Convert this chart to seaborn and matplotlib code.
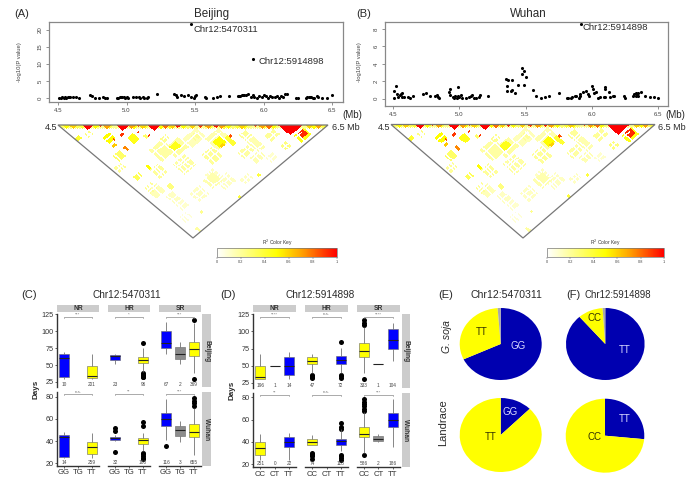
import numpy as np
import pandas as pd
import matplotlib
matplotlib.use("Agg")
import matplotlib.pyplot as plt
from matplotlib.colors import LinearSegmentedColormap, Normalize
from matplotlib.cm import ScalarMappable
from matplotlib.patches import Polygon
import seaborn as sns

# ---------- association scatter data ----------
a_pos = [4.51,4.52,4.53,4.54,4.55,4.56,4.57,4.58,4.59,4.61,4.63,4.65,4.73,4.75,4.77,4.80,4.83,4.84,4.86,
         4.93,4.94,4.95,4.96,4.97,4.98,4.99,5.0,5.01,5.05,5.07,5.09,5.1,5.12,5.13,5.15,5.16,5.22,
         5.35,5.36,5.37,5.40,5.42,5.45,5.47,5.49,5.50,5.51,5.57,5.58,5.63,5.66,5.68,5.75,
         5.81,5.82,5.83,5.84,5.85,5.86,5.87,5.89,5.91,5.92,5.93,5.95,5.97,5.99,6.0,6.02,6.03,6.05,6.06,6.08,6.1,6.11,
         6.13,6.14,6.16,6.17,6.24,6.25,6.31,6.32,6.33,6.34,6.35,6.36,6.37,6.39,6.40,6.43,6.46,6.5,5.468,5.92]
a_logp = [.1,.2,.25,.15,.3,.2,.35,.25,.3,.4,.3,.15,1.0,.6,.1,.2,.3,.1,.15,
          .1,.2,.3,.25,.4,.3,.2,.35,.2,.3,.4,.3,.15,.3,.1,.2,.3,1.2,
          1.4,.9,.5,1.0,.6,.9,.4,.2,.8,1.1,.5,.1,.2,.3,.8,.6,
          .6,.8,.7,.9,1.0,.9,1.1,1.2,.5,.9,.3,.2,.7,.4,.9,.6,.2,.8,.5,.3,.7,.2,
          .8,.3,1.2,1.4,.2,.1,.2,.3,.35,.25,.3,.1,.2,.8,.3,.2,.15,.9,21.8,11.4]
b_pos = [4.51,4.51,4.52,4.53,4.54,4.55,4.56,4.57,4.57,4.58,4.61,4.63,4.65,4.73,4.75,4.78,4.82,4.83,4.84,4.85,
         4.92,4.93,4.93,4.95,4.96,4.97,4.98,4.99,4.99,5.0,5.01,5.02,5.05,5.07,5.09,5.1,5.11,5.13,5.15,5.16,5.22,
         5.35,5.37,5.36,5.36,5.39,5.40,5.40,5.42,5.44,5.47,5.47,5.49,5.49,5.50,5.56,5.58,5.62,5.65,5.68,5.75,
         5.81,5.82,5.84,5.85,5.87,5.88,5.9,5.91,5.91,5.93,5.96,5.97,5.98,6.0,6.01,6.02,6.03,6.05,6.06,6.09,6.1,6.1,6.1,
         6.13,6.14,6.16,6.17,6.24,6.25,6.31,6.32,6.33,6.33,6.34,6.35,6.35,6.37,6.4,6.44,6.47,6.5,5.916]
b_logp = [.9,.05,1.4,.5,.2,.4,.5,.2,.7,.2,.15,.1,.3,.55,.7,.3,.3,.4,.15,.05,
          .8,1.1,.4,.2,.1,.3,.1,1.3,.3,.2,.4,.1,.05,.2,.3,.4,.1,.05,.2,.4,.35,
          2.2,2.1,1.4,.9,.9,1.0,2.1,.7,1.6,2.8,3.5,1.6,3.2,2.5,1.0,.3,.1,.15,.25,.7,
          .1,.05,.1,.2,.25,.3,.1,.5,.3,.8,.9,.5,.35,1.5,1.1,.6,.8,.1,.2,.2,1.3,1.1,.2,
          .8,.2,.3,.3,.3,.1,.3,.5,.3,.6,.4,.3,.7,.8,.25,.15,.2,.05,8.6]

# ---------- LD blocks read from the triangles (Mb ranges and r2) ----------
ld_a0 = [4.69,4.93,5.17,5.37,5.53,5.645,5.95,4.805,5.08,6.14,4.71,4.78,4.72,4.63,5.14,5.50,4.78,4.60,6.20,4.87,5.53,5.20,4.79,4.60,5.08,4.95,5.47,5.08,4.57,4.76,5.75,5.30,4.50,4.90,5.60,6.15,5.068,5.025,4.778,5.668,5.52]
ld_a1 = [4.77,5.03,5.26,5.425,5.59,5.695,5.99,4.835,5.12,6.32,4.81,4.84,4.76,4.73,5.24,5.60,4.84,4.68,6.28,4.91,5.57,5.24,4.83,4.64,5.28,5.15,5.67,5.24,4.71,4.84,5.85,5.50,4.56,5.0,5.66,6.30,5.092,5.055,4.802,5.692,5.56]
ld_b0 = [4.69,4.93,5.17,5.37,5.53,5.645,5.95,4.805,5.08,6.14,4.95,5.19,5.08,5.19,5.52,5.80,5.52,5.51,6.35,5.05,6.41,6.46,6.31,6.44,5.50,5.40,5.72,6.06,5.75,5.85,6.05,5.55,4.75,5.14,5.85,6.35,5.268,5.145,5.038,5.868,5.88]
ld_b1 = [4.77,5.03,5.26,5.425,5.59,5.695,5.99,4.835,5.12,6.32,5.05,5.25,5.12,5.29,5.62,5.90,5.58,5.59,6.43,5.09,6.45,6.50,6.35,6.50,5.66,5.60,5.92,6.22,5.89,5.91,6.23,5.70,4.80,5.24,5.98,6.46,5.292,5.175,5.062,5.892,5.92]
ld_r2 = [1.0,1.0,1.0,.95,.9,.95,.9,.9,.85,1.0,.5,.75,.62,.3,.45,.5,.5,.33,.92,.9,.38,.38,.22,.18,.18,.18,.16,.16,.14,.25,.16,.14,.4,.45,.4,.45,.9,.9,.85,.85,.6]
# pale regions: centre of each rotated block (a, b), half width, r2
ld_pale_a = [4.65,5.04,5.18,5.42,5.81,6.0,6.01,5.66,5.385,5.08,4.84,4.58,4.62,4.7,4.93,5.25,5.21,5.7,5.8,5.42,4.63,4.72]
ld_pale_b = [4.82,5.27,5.42,5.63,5.98,6.18,6.37,6.13,5.915,5.78,5.66,5.34,5.74,6.0,6.17,6.25,6.09,6.28,6.38,6.37,6.27,6.13]
ld_pale_h = [.05,.03,.04,.04,.06,.06,.04,.07,.08,.1,.07,.05,.06,.06,.08,.08,.06,.06,.06,.06,.05,.05]
ld_pale_r2 = [.25,.3,.22,.2,.2,.2,.25,.18,.2,.18,.2,.2,.2,.12,.12,.12,.12,.15,.1,.12,.08,.1]
# chips just under the top edge
ld_near_pos = [4.53,4.56,4.59,4.62,4.65,4.68,4.79,4.86,4.89,5.05,5.07,5.13,5.15,5.27,5.3,5.33,5.35,5.44,5.47,5.5,5.61,5.63,5.71,5.74,5.77,5.8,5.83,5.86,5.89,5.92,6.01,6.04,6.07,6.1,6.12,6.36,6.4,6.43,6.46,6.49]
ld_near_r2 = [.3,.5,.25,.6,.35,.4,.5,.7,.4,.7,.5,.6,.4,.5,.8,.4,.6,.5,.3,.6,.7,.4,.7,.4,.5,.3,.4,.6,.5,.3,.7,.4,.8,.5,.3,.6,.5,.7,.3,.4]
ld_band_r2 = .22
ld_gap_pos = [4.58,4.61,4.64,4.66,4.70,4.78,4.83,4.86,4.91,4.99,5.02,5.07,5.13,5.19,5.23,5.29,5.34,5.41,5.46,5.52,5.57,5.61,5.69,5.74,5.78,5.86,5.93,6.01,6.07,6.12,6.2,6.25,6.33,6.38,6.42,6.47]

# ---------- boxes: [low whisker, Q1, median, Q3, high whisker] ----------
c_bj_nr = {'GG': [30,33,61,66.4,69], 'TT': [30,30.4,33.4,48.6,66]}
c_bj_hr = {'GG': [51,57.5,64,65,66], 'TT': [40,52.6,57,62.4,75]}
c_bj_sr = {'GG': [67,75,83,101,113], 'TG': [52,59.5,67,76,84], 'TT': [39,64,73,84.6,112]}
c_wh_nr = {'GG': [25,25.6,43.4,45.5,48.5], 'TT': [24.5,28.7,35,39.5,47]}
c_wh_hr = {'GG': [40,41,42.5,44,45.5], 'TT': [31.5,37,40.7,42.5,47.5]}
c_wh_sr = {'GG': [41,54,60,65,78], 'TG': [39.5,44.5,50,54,58], 'TT': [27.5,43.7,48.5,55,70]}
d_bj_nr = {'CC': [30,30.4,33,49.4,67], 'CT': [49.4], 'TT': [30,37,50,63,69.4]}
d_bj_hr = {'CC': [40,52,57,63,66.5], 'TT': [40,53,58,64.5,76]}
d_bj_sr = {'CC': [40,63,71,82.5,107], 'CT': [52], 'TT': [57,74,88,103,113]}
d_wh_nr = {'CC': [24,28.4,34.3,39.7,47], 'TT': [24,35,40,44,48]}
d_wh_hr = {'CC': [37,37.6,40,42.4,46], 'TT': [31.4,37.3,41,43,52]}
d_wh_sr = {'CC': [30,44,47,53.4,67], 'CT': [39.7,41.2,43,45.4,47], 'TT': [35,53,60,65.7,78.5]}

c_bj_out = {'HR': [83,38,36,35,33,32], 'SR': [116.6,30]}
c_bj_out_geno = {'HR': ['TT']*6, 'SR': ['TT','TT']}
c_wh_out = {'HR': [52,49.5,30.5,57.5,53.5,29.5,28,26.5,25,24], 'SR': [35.5,78.5,76,74,72]}
c_wh_out_geno = {'HR': ['GG','GG','GG']+['TT']*7, 'SR': ['GG','TT','TT','TT','TT']}
d_bj_out = {'HR': [36,35,34,33,32,84,37,35,32.5], 'SR': [117,113,110,30]}
d_bj_out_geno = {'HR': ['CC']*5+['TT']*4, 'SR': ['CC']*4}
d_wh_out = {'HR': [30,29,28,27,25,57.3,53,51.5,28.5,27,26,24], 'SR': [78.5,76,74,72,70,68,28]}
d_wh_out_geno = {'HR': ['CC']*5+['TT']*7, 'SR': ['CC']*7}

c_bj_n = [['10','','201'],['23','','96'],['67','2','369']]
c_wh_n = [['14','','259'],['32','','180'],['116','3','655']]
d_bj_n = [['196','1','14'],['47','','72'],['333','1','104']]
d_wh_n = [['251','0','22'],['74','','118'],['586','2','186']]
c_bj_sig = ['***','*','***']
c_wh_sig = ['n.s.','**','***']
d_bj_sig = ['****','n.s.','****']
d_wh_sig = ['**','n.s.','***']
treatments = ['NR','HR','SR']
c_order = ['GG','TG','TT']
d_order = ['CC','CT','TT']

# ---------- pies ----------
e_soja = [68, 30.8, 1.2]
f_soja = [88.6, 10.3, 1.1]
e_land = [12.5, 87.5]
f_land = [26.5, 73.5]

sns.set_theme(style='white')
plt.rcParams['font.family'] = ['Liberation Sans', 'DejaVu Sans']
W, H = 692, 484
fig = plt.figure(figsize=(W/100, H/100), dpi=100)
ink = '#2a2a2a'

def ax_px(l, t, r, b, **kw):
    return fig.add_axes([l/W, 1-b/H, (r-l)/W, (b-t)/H], **kw)

def txt(x, y, s, size=7, ha='center', va='center', color=ink, **kw):
    fig.text(x/W, 1-y/H, s, fontsize=size, ha=ha, va=va, color=color, **kw)

# ---------- scatter panels ----------
def assoc(rect, pos, logp, xlim, ylim, yticks, notes):
    ax = ax_px(*rect)
    sns.scatterplot(x=pos, y=logp, ax=ax, s=5, color='black', linewidth=0)
    ax.set(xlim=xlim, ylim=ylim, xlabel='', ylabel='')
    ax.set_xticks([4.5, 5.0, 5.5, 6.0, 6.5])
    ax.set_yticks(yticks)
    ax.tick_params(axis='both', length=2.5, width=.5, color='#666', labelsize=4.4,
                   labelcolor='#444', pad=2, bottom=True, left=True)
    ax.tick_params(axis='y', labelrotation=90)
    for lab in ax.get_yticklabels():
        lab.set_va('center')
    for s in ax.spines.values():
        s.set_color('#888')
        s.set_linewidth(.9)
    for (x, y, s) in notes:
        ax.text(x, y, s, fontsize=6.8, color=ink, ha='left', va='center')
    return ax

assoc((49, 21.7, 343, 102), a_pos, a_logp, (4.434, 6.58), (-1.08, 22.4), [0, 5, 10, 15, 20],
      [(5.49, 20, 'Chr12:5470311'), (5.96, 10.9, 'Chr12:5914898')])
assoc((385, 21.7, 668, 106), b_pos, b_logp, (4.44, 6.575), (-0.85, 8.85), [0, 2, 4, 6, 8],
      [(5.933, 8.2, 'Chr12:5914898')])
txt(20, 62, '-log10(P value)', size=4.2, rotation=90, color='#444')
txt(359, 62, '-log10(P value)', size=4.2, rotation=90, color='#444')
txt(22, 14, '(A)', size=8)
txt(364, 14, '(B)', size=8)
txt(212, 14, 'Beijing', size=8.4)
txt(528, 14, 'Wuhan', size=8.4)
txt(342, 115, '(Mb)', size=7, ha='left')
txt(665, 115, '(Mb)', size=7, ha='left')

# ---------- LD triangles ----------
ld_cmap = LinearSegmentedColormap.from_list('ld', [(0, '#ffffff'), (.5, '#ffff00'), (.7, '#ffa500'), (1, '#ff0000')], N=256)
ld_norm = Normalize(0, 1)
edges = np.linspace(4.5, 6.5, 121)
mid = (edges[:-1] + edges[1:]) / 2
m = np.zeros((mid.size, mid.size))
def paint(a0, a1, b0, b1, r):
    sel = np.outer((mid >= a0) & (mid < a1), (mid >= b0) & (mid < b1))
    m[sel] = np.maximum(m[sel], r)
for a, b, h, r in zip(ld_pale_a, ld_pale_b, ld_pale_h, ld_pale_r2):
    paint(a - h, a + h, b - h, b + h, r)
aa, bb = np.meshgrid(mid, mid, indexing='ij')
for g in ld_gap_pos:
    k = np.argmin(np.abs(mid - g))
    far = bb - aa > .08
    m[k, :][far[k, :]] = 0
    m[:, k][far[:, k]] = 0
m[(bb >= aa) & (bb - aa < .06)] = np.maximum(m[(bb >= aa) & (bb - aa < .06)], ld_band_r2)
for a0, a1, b0, b1, r in zip(ld_a0, ld_a1, ld_b0, ld_b1, ld_r2):
    paint(a0, a1, b0, b1, r)
for p, r in zip(ld_near_pos, ld_near_r2):
    paint(p - .032, p + .032, p - .032, p + .032, r)
for g in ld_gap_pos[::3]:
    k = np.argmin(np.abs(mid - g))
    far = bb - aa > .12
    m[k, :][far[k, :]] = 0
    m[:, k][far[:, k]] = 0

def triangle(rect, key):
    ax = ax_px(*rect)
    A, B = np.meshgrid(edges, edges, indexing='ij')
    mesh = ax.pcolormesh((A + B) / 2, B - A, np.ma.masked_where(bb < aa, m),
                         cmap=ld_cmap, norm=ld_norm, shading='flat', linewidth=0, rasterized=True)
    ax.set(xlim=(4.5, 6.5), ylim=(2, 0))
    ax.axis('off')
    corners = [(4.5, 0), (6.5, 0), (5.5, 2)]
    mesh.set_clip_path(Polygon(corners, transform=ax.transData))
    ax.add_patch(Polygon(corners, closed=True, fill=False, edgecolor='#777', linewidth=.9, clip_on=False))
    cax = ax_px(*key)
    cb = fig.colorbar(ScalarMappable(norm=ld_norm, cmap=ld_cmap), cax=cax, orientation='horizontal',
                      ticks=[0, .2, .4, .6, .8, 1])
    cb.ax.set_xticklabels(['0', '0.2', '0.4', '0.6', '0.8', '1'])
    cb.ax.tick_params(labelsize=2.8, length=1.5, width=.3, pad=1, color='#555', labelcolor='#444', bottom=True)
    cb.outline.set_edgecolor('#777')
    cb.outline.set_linewidth(.5)
    fig.text((key[0] + key[2]) / 2 / W, 1 - 243 / H, 'R$^2$ Color Key', fontsize=3.5, color='#333',
             ha='center', va='center')

triangle((58, 125, 328, 238), (217, 248, 337, 257))
triangle((391, 124.5, 655, 238), (547, 248, 664, 257))
txt(57, 127, '4.5', size=6.5, ha='right')
txt(332, 127, '6.5 Mb', size=6.5, ha='left')
txt(390, 127, '4.5', size=6.5, ha='right')
txt(658, 127, '6.5 Mb', size=6.5, ha='left')

# ---------- boxplot facets ----------
palettes = {'GG': '#0000ff', 'TG': '#8c8c8c', 'TT': '#ffff00', 'CC': '#ffff00', 'CT': '#8c8c8c'}
d_palette = dict(palettes, TT='#0000ff')

def facet(rect, stats, outliers, outgeno, order, pal, ylim, yticks, n_labels, sig, brack, ny, first, bottom):
    ax = ax_px(*rect)
    rows = [(g, v) for g, vals in stats.items() for v in vals]
    df = pd.DataFrame(rows, columns=['geno', 'days'])
    sns.boxplot(data=df, x='geno', y='days', hue='geno', order=order, hue_order=order, palette=pal,
                saturation=1, dodge=False, legend=False, whis=(0, 100), width=.7, linewidth=.55, linecolor='#666',
                showcaps=False, showfliers=False, ax=ax,
                medianprops={'color': '#222', 'linewidth': .8},
                boxprops={'linewidth': .4})
    if outliers:
        sns.scatterplot(x=outgeno, y=outliers, ax=ax, s=13, color='black', linewidth=0)
    ax.set(xlim=(-.5, 2.5), ylim=ylim, xlabel='', ylabel='')
    ax.patch.set_visible(False)
    ax.set_yticks(yticks if first else [])
    ax.set_xticks(range(3))
    ax.set_xticklabels(order if bottom else [''] * 3)
    ax.tick_params(axis='x', length=0 if not bottom else 1.5, width=.5, labelsize=5.6, labelcolor='#333', pad=1, bottom=bottom)
    ax.tick_params(axis='y', length=1.5, width=.5, labelsize=5.2, labelcolor='#333', pad=1, left=first)
    for s in ['top', 'right']:
        ax.spines[s].set_visible(False)
    ax.spines['left'].set_visible(first)
    ax.spines['bottom'].set_visible(bottom)
    for s in ['left', 'bottom']:
        ax.spines[s].set_color('#333')
        ax.spines[s].set_linewidth(1.0)
    for i, s in enumerate(n_labels):
        ax.text(i, ny, s, fontsize=3.4, ha='center', va='center', color='#444')
    span = ylim[1] - ylim[0]
    tick = span * .02
    ax.plot([0, 0, 2, 2], [brack - tick, brack, brack, brack - tick], color='#888', lw=.5, clip_on=False)
    ax.text(1, brack + span * .003, sig, fontsize=3.2, ha='center', va='bottom', color='#777', clip_on=False)
    return ax

def strip(l, t, r, b, s, rotation=0):
    ax = ax_px(l, t, r, b)
    ax.set_facecolor('#cccccc')
    ax.set_xticks([])
    ax.set_yticks([])
    for sp in ax.spines.values():
        sp.set_visible(False)
    ax.text(.5, .5, s, transform=ax.transAxes, fontsize=4.8, fontweight='bold', color='#333',
            ha='center', va='center', rotation=rotation)

def panel(cols, rows, right, order, pal, bj, bj_out, bj_geno, wh, wh_out, wh_geno, bj_n, wh_n, bj_sig, wh_sig, ylims):
    for i, tr in enumerate(treatments):
        l, r = cols[i]
        strip(l, 305, r, 312.3, tr)
        facet((l, rows[0][0], r, rows[0][1]), bj[i], bj_out.get(tr, []), bj_geno.get(tr, []), order, pal,
              ylims[0], [25, 50, 75, 100, 125], bj_n[i], bj_sig[i], 121.5, 20.6, i == 0, False)
        facet((l, rows[1][0], r, rows[1][1]), wh[i], wh_out.get(tr, []), wh_geno.get(tr, []), order, pal,
              ylims[1], [20, 40, 60, 80], wh_n[i], wh_sig[i], 82.4, 20.6, i == 0, True)
    strip(right[0], rows[0][0], right[1], rows[0][1], 'Beijing', rotation=-90)
    strip(right[0], rows[1][0], right[1], rows[1][1], 'Wuhan', rotation=-90)

panel([(57, 99), (108, 150), (159, 201)], [(314.3, 387), (392, 466)], (202, 211), c_order, palettes,
      [c_bj_nr, c_bj_hr, c_bj_sr], c_bj_out, c_bj_out_geno, [c_wh_nr, c_wh_hr, c_wh_sr], c_wh_out, c_wh_out_geno,
      c_bj_n, c_wh_n, c_bj_sig, c_wh_sig, [(17.6, 125), (17.6, 84.2)])
panel([(253.3, 296), (305.3, 347.7), (357, 399.7)], [(314.3, 388), (392.7, 467.3)], (401.7, 410), d_order, d_palette,
      [d_bj_nr, d_bj_hr, d_bj_sr], d_bj_out, d_bj_out_geno, [d_wh_nr, d_wh_hr, d_wh_sr], d_wh_out, d_wh_out_geno,
      d_bj_n, d_wh_n, d_bj_sig, d_wh_sig, [(17.6, 125), (17.2, 84.2)])
txt(29, 295, '(C)', size=8)
txt(228, 295, '(D)', size=8)
txt(127, 295, 'Chr12:5470311', size=7.2)
txt(320, 295, 'Chr12:5914898', size=7.2)
txt(36, 389, 'Days', size=5.8, fontweight='bold', rotation=90)
txt(232, 390, 'Days', size=5.8, fontweight='bold', rotation=90)

# ---------- pies ----------
pie_blue, pie_yellow, pie_gray = '#0000b0', '#ffff00', '#a8a8a8'
def pie(cx, cy, rx, ry, vals, cols):
    ax = ax_px(cx - rx, cy - ry, cx + rx, cy + ry)
    ax.pie(vals, colors=cols, startangle=90, counterclock=False, radius=1, wedgeprops={'linewidth': 0})
    ax.set_xlim(-1, 1)
    ax.set_ylim(-1, 1)
    ax.set_aspect('auto')

pie(500.7, 344, 41, 36, e_soja, [pie_blue, pie_yellow, pie_gray])
pie(605.3, 344, 39.3, 36, f_soja, [pie_blue, pie_yellow, pie_gray])
pie(500.7, 435, 41, 37, e_land, [pie_blue, pie_yellow])
pie(605, 435.7, 39.3, 37, f_land, [pie_blue, pie_yellow])
for x, y, s, c in [(518, 346, 'GG', '#d8d8ff'), (481.7, 331.7, 'TT', '#333300'), (594, 317.7, 'CC', '#333300'),
                   (625, 350, 'TT', '#d8d8ff'), (509.7, 411.7, 'GG', '#d8d8ff'), (490.7, 437, 'TT', '#333300'),
                   (625, 419, 'TT', '#d8d8ff'), (594, 437, 'CC', '#333300')]:
    txt(x, y, s, size=7, color=c)
txt(445.7, 295, '(E)', size=8)
txt(573, 295, '(F)', size=8)
txt(506, 295, 'Chr12:5470311', size=7.6)
txt(618, 295, 'Chr12:5914898', size=6.9)
txt(446.5, 336.5, 'G. soja', size=7.5, rotation=90, style='italic')
txt(443.5, 423, 'Landrace', size=8, rotation=90)

fig.savefig('out.png', dpi=100)
